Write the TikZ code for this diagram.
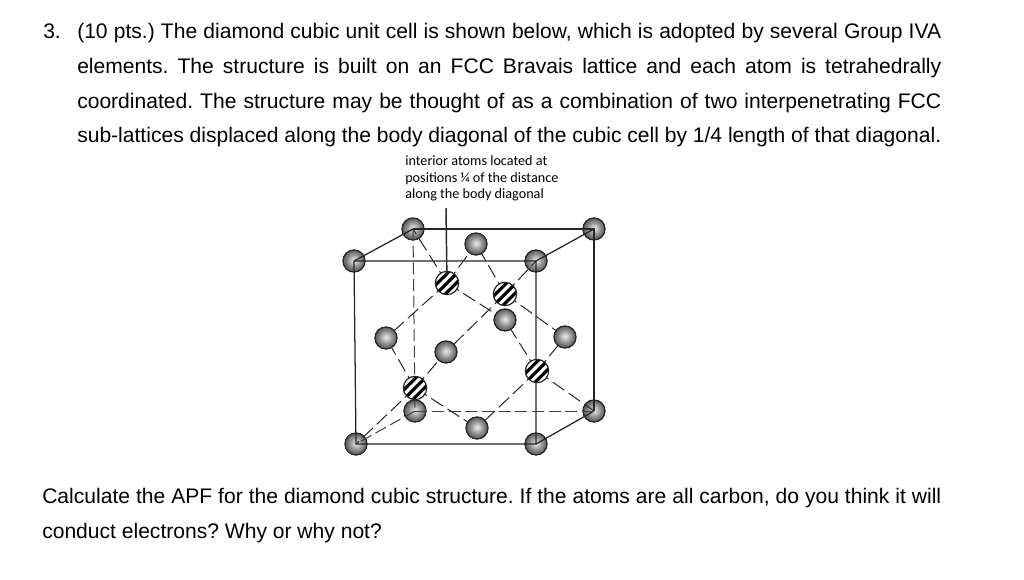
\documentclass[tikz,border=0pt]{standalone}
\usepackage{fontspec}
\setmainfont{Liberation Sans}
\newfontfamily\labelfont{Carlito}
\frenchspacing
\pgfdeclarelayer{cornerlayer}
\pgfdeclarelayer{linelayer}
\pgfsetlayers{cornerlayer,linelayer,main}
\pgfdeclareradialshading{atomball}{\pgfpoint{0bp}{2bp}}{
  color(0bp)=(black!8); color(7bp)=(black!24); color(14bp)=(black!42); color(20bp)=(black!55); color(25bp)=(black!62); color(50bp)=(black!62)}
\newlength{\pxu}\setlength{\pxu}{0.75pt}
\tikzset{
  x=0.75pt,y=-0.75pt,
  atom/.style={circle,draw=black!85,line width=1pt,minimum size=16.5pt,inner sep=0pt,shading=atomball},
  hatched/.style={circle,draw=black!85,line width=0.9pt,minimum size=17.5pt,inner sep=0pt,fill=white,
    path picture={
      \foreach \d in {-21,-14,...,21}{
        \draw[black,line width=2.4pt] ([xshift=\d pt,yshift=-14pt]path picture bounding box.center) -- ++(28pt,28pt) ;
      }
    }},
  bondline/.style={black!85,line width=0.75pt,dash pattern=on 10.5pt off 4pt},
  edgeline/.style={black!85,line width=0.95pt},
  backline/.style={black!75,line width=0.75pt,dash pattern=on 9pt off 3.5pt},
  leader/.style={black!85,line width=1.1pt},
  textline/.style={anchor=base west,inner sep=0pt,font=\fontsize{15.8pt}{17pt}\selectfont},
  caplabel/.style={anchor=base west,inner sep=0pt,font=\fontsize{10.65pt}{12pt}\selectfont\labelfont},
}
\newcommand{\fitline}[2]{\makebox[#1\pxu][s]{#2}}
\begin{document}
\begin{tikzpicture}
\useasboundingbox (0,0) rectangle (1024,579);
% text
\node[textline] (num) at (43,38) {3.};
\node[textline] (l1) at (77,38) {\fitline{864}{(10 pts.) The diamond cubic unit cell is shown below, which is adopted by several Group IVA}};
\node[textline] (l2) at (77,73) {\fitline{864}{elements. The structure is built on an FCC Bravais lattice and each atom is tetrahedrally}};
\node[textline] (l3) at (77,108) {\fitline{864}{coordinated. The structure may be thought of as a combination of two interpenetrating FCC}};
\node[textline] (l4) at (77,142) {\fitline{864}{sub-lattices displaced along the body diagonal of the cubic cell by 1/4 length of that diagonal.}};
\node[textline] (q1) at (42,503) {\fitline{899}{Calculate the APF for the diamond cubic structure. If the atoms are all carbon, do you think it will}};
\node[textline] (q2) at (42,538) {conduct electrons? Why or why not?};
\node[caplabel] (c1) at (405,165) {interior atoms located at};
\node[caplabel] (c2) at (405,182) {positions ¼ of the distance};
\node[caplabel] (c3) at (405,198) {along the body diagonal};
\coordinate (leadtop) at (446,208);
% corner atoms
\begin{pgfonlayer}{cornerlayer}
\node[atom] (ftl) at (354,261) {};
\node[atom] (ftr) at (536,261) {};
\node[atom] (fbl) at (356,444) {};
\node[atom] (fbr) at (536,444) {};
\node[atom] (btl) at (413,229) {};
\node[atom] (btr) at (594,229) {};
\node[atom] (bbl) at (415,411) {};
\node[atom] (bbr) at (594,411) {};
\end{pgfonlayer}
% face atoms
\node[atom] (top) at (476,244) {};
\node[atom] (lft) at (386,338) {};
\node[atom] (bck) at (446,352) {};
\node[atom] (rgt) at (505,320) {};
\node[atom] (frt) at (565,337) {};
\node[atom] (bot) at (477,428) {};
% interior atoms
\node[hatched] (ha) at (447,283) {};
\node[hatched] (hb) at (505,294) {};
\node[hatched] (hc) at (537,371) {};
\node[hatched] (hd) at (415,388) {};
\begin{pgfonlayer}{linelayer}
\draw[edgeline] (ftl.center) -- (ftr.center) -- (fbr.center) -- (fbl.center) -- (ftl.center);
\draw[edgeline] (btl.center) -- (btr.center) -- (bbr.center);
\draw[edgeline] (ftl.center) -- (btl.center);
\draw[edgeline] (ftr.center) -- (btr.center);
\draw[edgeline] (fbr.center) -- (bbr.center);
\draw[backline] (btl.center) -- (bbl.center);
\draw[backline] (bbr.center) -- (bbl.center);
\draw[backline] (bbl.center) -- (fbl.center);
\draw[bondline] (ha.center) -- (btl.center);
\draw[bondline] (ha.center) -- (top.center);
\draw[bondline] (ha.center) -- (lft.center);
\draw[bondline] (ha.center) -- (rgt.center);
\draw[bondline] (hb.center) -- (top.center);
\draw[bondline] (hb.center) -- (ftr.center);
\draw[bondline] (hb.center) -- (bck.center);
\draw[bondline] (hb.center) -- (frt.center);
\draw[bondline] (hc.center) -- (rgt.center);
\draw[bondline] (hc.center) -- (frt.center);
\draw[bondline] (hc.center) -- (bot.center);
\draw[bondline] (hc.center) -- (bbr.center);
\draw[bondline] (hd.center) -- (lft.center);
\draw[bondline] (hd.center) -- (bck.center);
\draw[bondline] (hd.center) -- (bot.center);
\draw[bondline] (hd.center) -- (fbl.center);
\end{pgfonlayer}
\draw[leader,shorten >=5.5pt] (leadtop) -- (ha.center);
\end{tikzpicture}
\end{document}
